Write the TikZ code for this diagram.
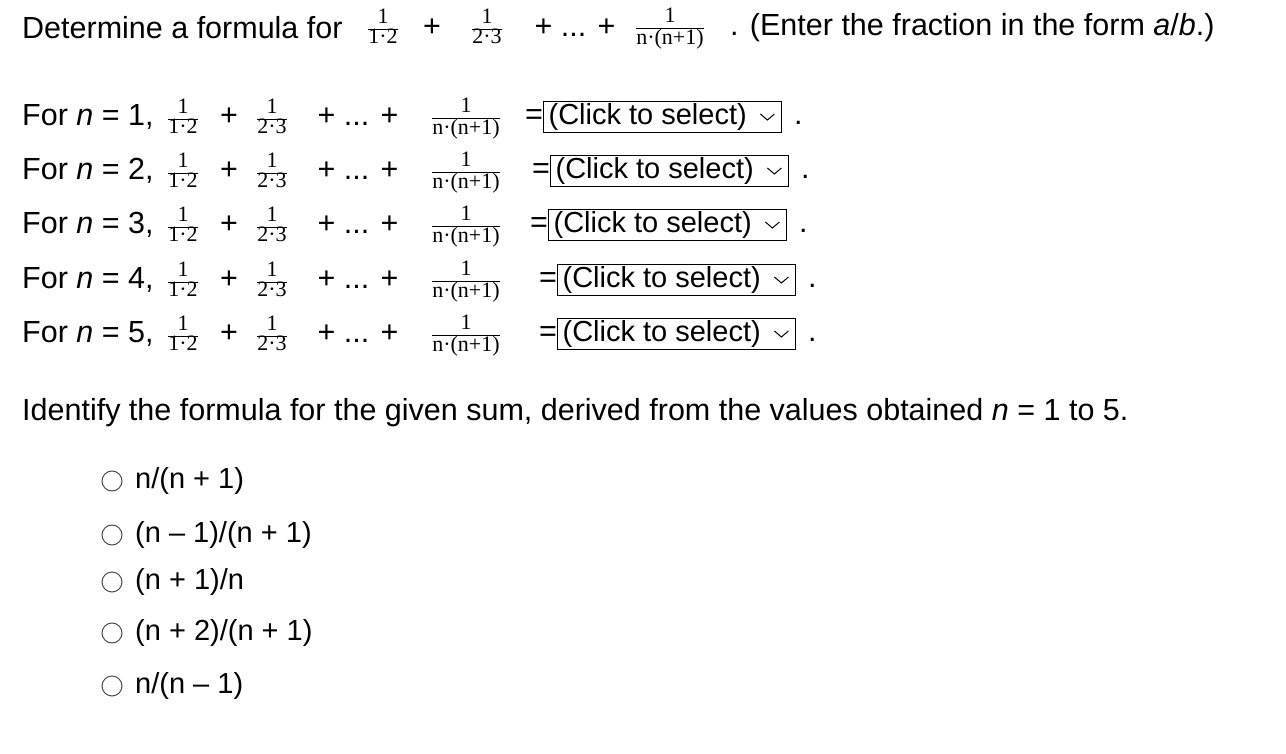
\documentclass[tikz,border=0pt]{standalone}
\usepackage{fontspec}
\setmainfont{Liberation Sans}
\newfontfamily\fserif{Liberation Serif}
\newcommand{\fr}[2]{{\fserif\fontsize{22}{23}\selectfont\renewcommand\arraystretch{0.82}\setlength\tabcolsep{1pt}\begin{tabular}{@{}c@{}}#1\\\hline #2\end{tabular}}}
\begin{document}
\begin{tikzpicture}[x=1pt,y=-1pt,
  every node/.style={inner sep=0pt,font=\fontsize{30.5}{33}\selectfont},
  txt/.style={anchor=west},
  sel/.style={draw=black,line width=1.2pt,minimum height=31pt,anchor=west,inner xsep=5pt,align=left,font=\fontsize{29}{30}\selectfont},
  opt/.style={circle,draw=black!70,line width=1pt,minimum size=20pt}]
\useasboundingbox[fill=white] (0,0) rectangle (1286,754);
\node[txt] (t1) at (22,28) {Determine a formula for};
\node (f1) at (383,29) {\fr{1}{1·2}};
\node (p1) at (432,28) {+};
\node (f2) at (487,29) {\fr{1}{2·3}};
\node (p2) at (575,28) {+ ... +};
\node (f3) at (670,29) {\fr{1}{n·(n+1)}};
\node[txt] (t2) at (730,28) {. (Enter the fraction in the form \textit{a}/\textit{b}.)};
\foreach \i/\y/\bx in {1/117/543,2/171/550,3/225/548,4/280/557,5/334/557}{
  \node[txt] (r\i) at (22,\y) {For \textit{n} = \i,};
  \node (ra\i) at (183,\y+2) {\fr{1}{1·2}};
  \node (rb\i) at (229,\y) {+};
  \node (rc\i) at (272,\y+2) {\fr{1}{2·3}};
  \node (rd\i) at (358,\y) {+ ... +};
  \node (re\i) at (466,\y+2) {\fr{1}{n·(n+1)}};
  \node (eq\i) at (\bx-9,\y) {=};
  \node[sel] (s\i) at (\bx,\y) {(Click to select)\hspace{30pt}};
  \draw[line width=1pt] ([xshift=-22pt,yshift=3pt]s\i.east) -- ([xshift=-15pt,yshift=-3pt]s\i.east) -- ([xshift=-8pt,yshift=3pt]s\i.east);
  \node (d\i) at ([xshift=16pt,yshift=-6pt]s\i.east) {.};
}
\node[txt] (id) at (22,413) {Identify the formula for the given sum, derived from the values obtained \textit{n} = 1 to 5.};
\foreach \i/\y/\t in {1/481/{n/(n + 1)},2/535/{(n – 1)/(n + 1)},3/582/{(n + 1)/n},4/633/{(n + 2)/(n + 1)},5/686/{n/(n – 1)}}{
  \node[opt] (c\i) at (112,\y) {};
  \node[txt,font=\fontsize{29}{30}\selectfont] (o\i) at (135,\y) {\t};
}
\end{tikzpicture}
\end{document}
